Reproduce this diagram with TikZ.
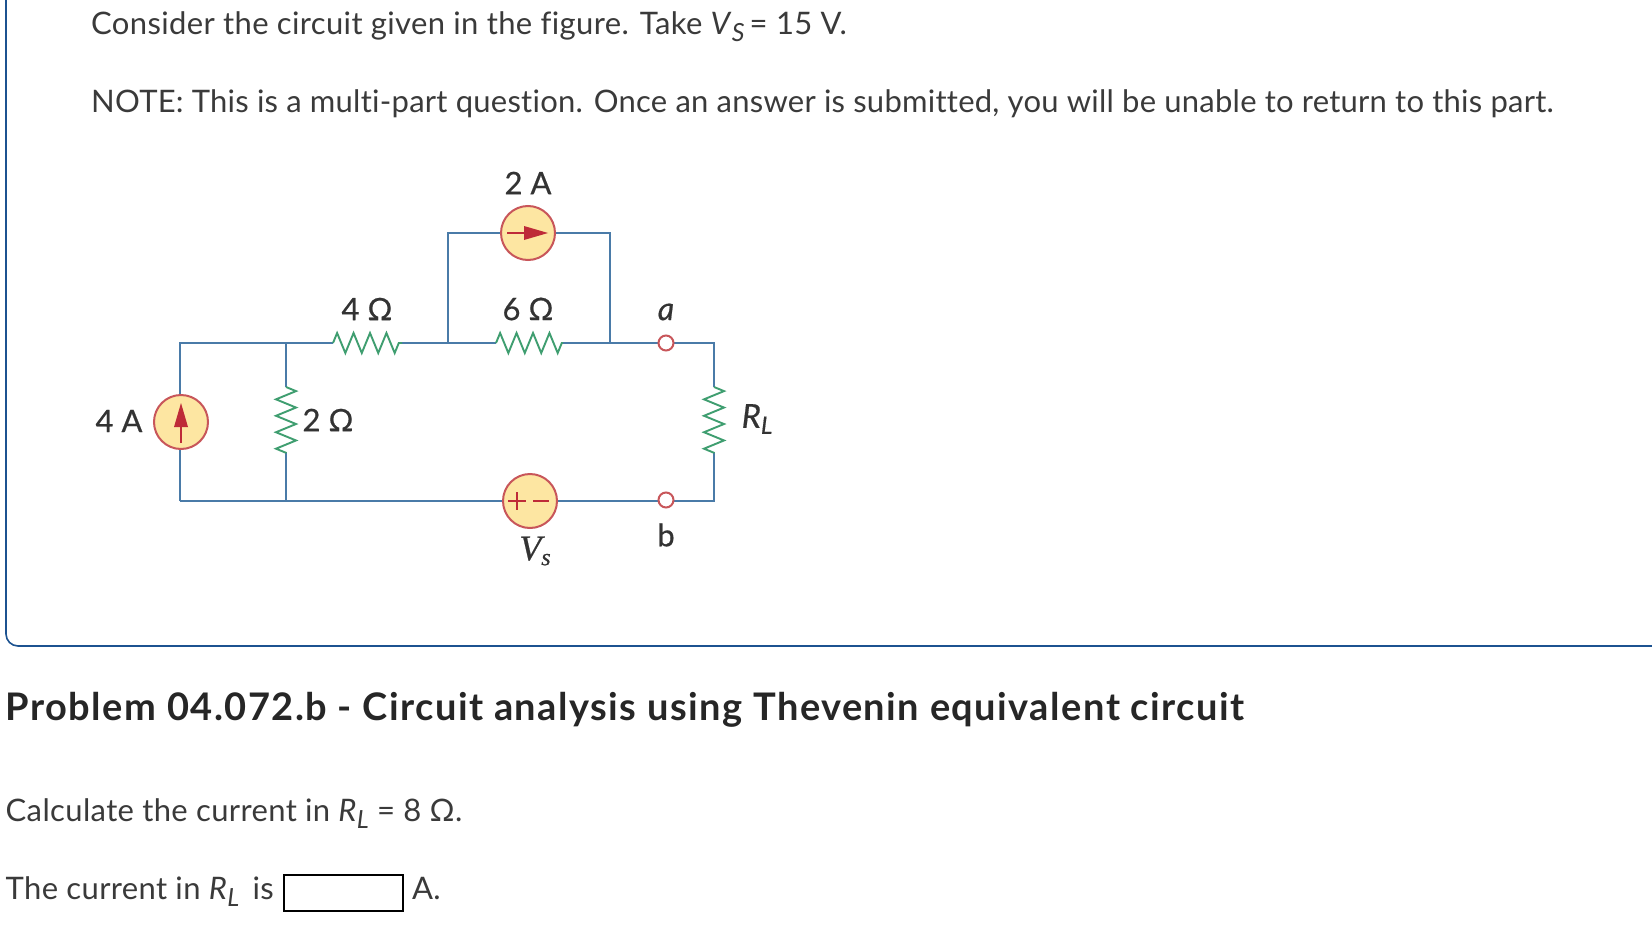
\documentclass[tikz,border=0pt]{standalone}
\usepackage{fontspec}
\setmainfont{Lato}[LetterSpace=0.8,Ligatures=NoCommon]
\newfontfamily\shortfont{Lato}[LetterSpace=1.15,Ligatures=NoCommon]
\newfontfamily\headfont{Lato}[LetterSpace=3.85,Ligatures=NoCommon]
\newfontfamily\labfont{Lato}[FakeBold=0.5]
\newfontfamily\seriffont{Liberation Serif}[FakeBold=0.6]
\usetikzlibrary{decorations.pathmorphing}
\definecolor{wireblue}{HTML}{4A7BA8}
\definecolor{resgreen}{HTML}{3F9E70}
\definecolor{srcfill}{HTML}{FDE6A2}
\definecolor{srcedge}{HTML}{C8565A}
\definecolor{arrowred}{HTML}{BE2B38}
\definecolor{frameblue}{HTML}{1C5290}
\definecolor{inktext}{HTML}{3A3A3A}
\newcommand{\subL}[1]{\raisebox{-7pt}{\fontsize{25}{25}\selectfont\itshape #1}}
\tikzset{
  wire/.style={draw=wireblue,line width=2.1pt,line join=miter},
  resistor/.style={draw=resgreen,line width=1.9pt,line join=miter,decorate,
    decoration={zigzag,segment length=16.45pt,amplitude=10pt}},
  source/.style={circle,draw=srcedge,fill=srcfill,line width=2pt,minimum size=54pt,inner sep=0pt},
  terminal/.style={circle,draw=srcedge,fill=white,line width=2pt,minimum size=15pt,inner sep=0pt},
  body/.style={anchor=base west,inner sep=0pt,text=inktext,font=\fontsize{31}{36}\selectfont},
  shortbody/.style={body,font=\fontsize{31}{36}\shortfont\selectfont},
  lab/.style={inner sep=0pt,text=black!80,font=\fontsize{31}{36}\labfont\selectfont},
  srcmark/.style={draw=arrowred,line width=2.1pt},
}
\begin{document}
\begin{tikzpicture}[x=1pt,y=-1pt]
\useasboundingbox[fill=white] (0,0) rectangle (1652,934);
% frame
\draw[frameblue,line width=1.6pt] (6,0) -- (6,634) arc[start angle=180,end angle=90,x radius=12pt,y radius=-12pt] -- (1652,646);
% text
\node[shortbody] (t1) at (91,35) {Consider the circuit given in the figure. Take \textit{V}\subL{S}\,= 15 V.};
\node[body] (t2) at (91,112) {NOTE: This is a multi-part question. Once an answer is submitted, you will be unable to return to this part.};
\node[body,font=\fontsize{38}{44}\headfont\bfseries\selectfont,text=black!85] (t3) at (5.5,720) {Problem 04.072.b - Circuit analysis using Thevenin equivalent circuit};
\node[shortbody] (t4) at (5.5,821) {Calculate the current in \textit{R}\subL{L} = 8 Ω.};
\node[shortbody] (t5) at (5.5,899) {The current in \textit{R}\subL{L}\, is};
\node[draw=black,line width=1.8pt,minimum width=119pt,minimum height=36pt,inner sep=0pt,anchor=north west] (ansbox) at (283,874) {};
\node[body] (t6) at (412,899) {A.};
% coordinates
\coordinate (TL) at (180,343);
\coordinate (J2) at (286,343);
\coordinate (R4a) at (333,343);
\coordinate (R4b) at (402,343);
\coordinate (J3) at (448,343);
\coordinate (R6a) at (496,343);
\coordinate (R6b) at (563,343);
\coordinate (J4) at (610,343);
\coordinate (TR) at (714,343);
\coordinate (UL) at (448,233);
\coordinate (UR) at (610,233);
\coordinate (BL) at (180,501);
\coordinate (B2) at (286,501);
\coordinate (BR) at (714,501);
\coordinate (R2a) at (286,387);
\coordinate (R2b) at (286,453);
\coordinate (RLa) at (714,387);
\coordinate (RLb) at (714,453);
% wires
\draw[wire] (BL) -- (TL) -- (R4a);
\draw[wire] (R4b) -- (R6a);
\draw[wire] (R6b) -- (TR) -- (RLa);
\draw[wire] (RLb) -- (BR) -- (BL);
\draw[wire] (J2) -- (R2a);
\draw[wire] (R2b) -- (B2);
\draw[wire] (J3) -- (UL) -- (UR) -- (J4);
% resistors
\draw[resistor] (R4a) -- (R4b);
\draw[resistor] (R6a) -- (R6b);
\draw[resistor] (R2a) -- (R2b);
\draw[resistor] (RLa) -- (RLb);
% sources
\node[source] (src4) at (181,422) {};
\node[source] (src2) at (528,233) {};
\node[source] (srcV) at (530,501) {};
\node[terminal] (ta) at (666,343) {};
\node[terminal] (tb) at (666,500) {};
% arrows in sources
\draw[srcmark] ([yshift=-21pt]src4.center) -- ([yshift=16pt]src4.center);
\fill[arrowred] ([yshift=19pt]src4.center) -- ([xshift=7pt,yshift=-5pt]src4.center) -- ([xshift=-7pt,yshift=-5pt]src4.center) -- cycle;
\draw[srcmark] ([xshift=-21pt]src2.center) -- ([xshift=14pt]src2.center);
\fill[arrowred] ([xshift=20pt]src2.center) -- ([xshift=-4pt,yshift=7pt]src2.center) -- ([xshift=-4pt,yshift=-7pt]src2.center) -- cycle;
\draw[srcmark] ([xshift=-22pt]srcV.center) -- ([xshift=-4pt]srcV.center);
\draw[srcmark] ([xshift=-13pt,yshift=9pt]srcV.center) -- ([xshift=-13pt,yshift=-9pt]srcV.center);
\draw[srcmark] ([xshift=3pt]srcV.center) -- ([xshift=19pt]srcV.center);
% labels
\node[lab] (l2A) at (528,183) {2 A};
\node[lab] (l6) at (528,309) {6 Ω};
\node[lab] (l4) at (367,309) {4 Ω};
\node[lab] (l4A) at (119,421) {4 A};
\node[lab] (l2) at (328,420) {2 Ω};
\node[lab,font=\fontsize{32}{36}\labfont\itshape\selectfont] (la) at (666,312) {a};
\node[lab] (lb) at (666,535) {b};
\node[lab,font=\fontsize{36}{36}\seriffont\itshape\selectfont] (lV) at (535,551) {V\raisebox{-5pt}{\fontsize{24}{24}\selectfont s}};
\node[lab,font=\fontsize{33}{36}\labfont\itshape\selectfont] (lR) at (757,419) {R\raisebox{-6pt}{\fontsize{24}{24}\selectfont L}};
\end{tikzpicture}
\end{document}
